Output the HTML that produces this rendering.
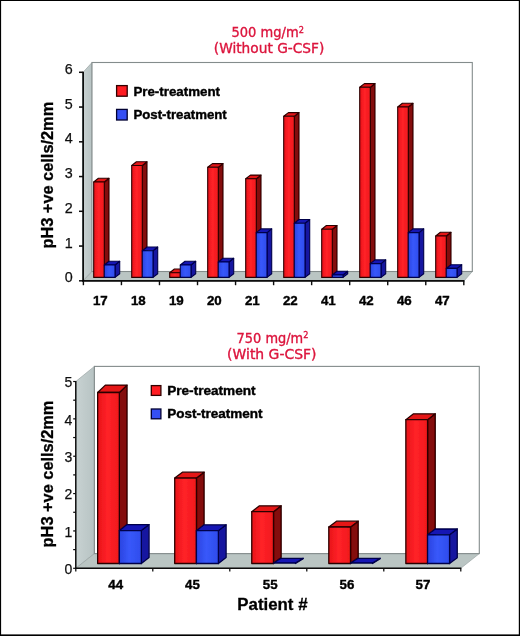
<!DOCTYPE html>
<html><head><meta charset="utf-8"><title>pH3 +ve cells per patient</title>
<style>
html,body{margin:0;padding:0;background:#fff;}
body{width:520px;height:636px;overflow:hidden;}
svg{display:block;}
.n{font-family:"Liberation Sans",Arial,sans-serif;font-size:14.3px;fill:#111;stroke:#111;stroke-width:0.25px;}
.b{font-family:"Liberation Sans",Arial,sans-serif;font-weight:bold;font-size:13.3px;fill:#000;stroke:#000;stroke-width:0.4px;}
.t{font-family:"DejaVu Sans","Liberation Sans",sans-serif;font-size:13.5px;fill:#dc143c;stroke:#dc143c;stroke-width:0.35px;}
.yl{font-family:"Liberation Sans",Arial,sans-serif;font-weight:bold;font-size:16px;fill:#000;stroke:#000;stroke-width:0.3px;}
</style></head><body>
<svg width="520" height="636" viewBox="0 0 520 636">
<defs>
<linearGradient id="gr" x1="0" x2="1" y1="0" y2="0"><stop offset="0" stop-color="#e81418"/><stop offset="0.45" stop-color="#ff2228"/><stop offset="1" stop-color="#f0181c"/></linearGradient>
<linearGradient id="gb" x1="0" x2="1" y1="0" y2="0"><stop offset="0" stop-color="#2a44e0"/><stop offset="0.45" stop-color="#3858fa"/><stop offset="1" stop-color="#2e4cec"/></linearGradient>
<linearGradient id="gw" x1="0" x2="1" y1="0" y2="0"><stop offset="0" stop-color="#c8d2d2"/><stop offset="1" stop-color="#b7c3c3"/></linearGradient>
<filter id="soft" x="0" y="0" width="520" height="636" filterUnits="userSpaceOnUse"><feGaussianBlur stdDeviation="0.45"/></filter>
</defs>
<rect x="0" y="0" width="520" height="636" fill="#fff"/>

<g id="chart1" filter="url(#soft)">
<polygon points="83.1,72.3 92,62.5 92,271.5 83.1,280.8" fill="url(#gw)" stroke="#98a2a2" stroke-width="0.7"/>
<polygon points="83.1,280.8 92,271.5 472.3,271.5 464.2,280.8" fill="#bac5c3" stroke="#98a2a2" stroke-width="0.7"/>
<rect x="92" y="62.5" width="380.3" height="209" fill="#fff" stroke="#848c8c" stroke-width="1.1"/>
<polygon points="104.3,182 109,178.3 109,273.7 104.3,277.4" fill="#840808" stroke="#2c0000" stroke-width="1.1" stroke-linejoin="round"/>
<polygon points="93.7,182 98.4,178.3 109,178.3 104.3,182" fill="#e41619" stroke="#2c0000" stroke-width="1.1" stroke-linejoin="round"/>
<rect x="93.7" y="182" width="10.6" height="95.4" fill="url(#gr)" stroke="#2c0000" stroke-width="1.1" stroke-linejoin="round"/>
<polygon points="115,265 119.7,261.3 119.7,273.7 115,277.4" fill="#1616a0" stroke="#00004a" stroke-width="1.1" stroke-linejoin="round"/>
<polygon points="104.3,265 109,261.3 119.7,261.3 115,265" fill="#1414b4" stroke="#00004a" stroke-width="1.1" stroke-linejoin="round"/>
<rect x="104.3" y="265" width="10.7" height="12.4" fill="url(#gb)" stroke="#00004a" stroke-width="1.1" stroke-linejoin="round"/>
<polygon points="142.3,165.5 147,161.8 147,273.7 142.3,277.4" fill="#840808" stroke="#2c0000" stroke-width="1.1" stroke-linejoin="round"/>
<polygon points="131.7,165.5 136.4,161.8 147,161.8 142.3,165.5" fill="#e41619" stroke="#2c0000" stroke-width="1.1" stroke-linejoin="round"/>
<rect x="131.7" y="165.5" width="10.6" height="111.9" fill="url(#gr)" stroke="#2c0000" stroke-width="1.1" stroke-linejoin="round"/>
<polygon points="153,250.7 157.7,247 157.7,273.7 153,277.4" fill="#1616a0" stroke="#00004a" stroke-width="1.1" stroke-linejoin="round"/>
<polygon points="142.3,250.7 147,247 157.7,247 153,250.7" fill="#1414b4" stroke="#00004a" stroke-width="1.1" stroke-linejoin="round"/>
<rect x="142.3" y="250.7" width="10.7" height="26.7" fill="url(#gb)" stroke="#00004a" stroke-width="1.1" stroke-linejoin="round"/>
<polygon points="180.3,272.7 185,269 185,273.7 180.3,277.4" fill="#840808" stroke="#2c0000" stroke-width="1.1" stroke-linejoin="round"/>
<polygon points="169.7,272.7 174.4,269 185,269 180.3,272.7" fill="#e41619" stroke="#2c0000" stroke-width="1.1" stroke-linejoin="round"/>
<rect x="169.7" y="272.7" width="10.6" height="4.7" fill="url(#gr)" stroke="#2c0000" stroke-width="1.1" stroke-linejoin="round"/>
<polygon points="191,265 195.7,261.3 195.7,273.7 191,277.4" fill="#1616a0" stroke="#00004a" stroke-width="1.1" stroke-linejoin="round"/>
<polygon points="180.3,265 185,261.3 195.7,261.3 191,265" fill="#1414b4" stroke="#00004a" stroke-width="1.1" stroke-linejoin="round"/>
<rect x="180.3" y="265" width="10.7" height="12.4" fill="url(#gb)" stroke="#00004a" stroke-width="1.1" stroke-linejoin="round"/>
<polygon points="218.3,167.3 223,163.6 223,273.7 218.3,277.4" fill="#840808" stroke="#2c0000" stroke-width="1.1" stroke-linejoin="round"/>
<polygon points="207.7,167.3 212.4,163.6 223,163.6 218.3,167.3" fill="#e41619" stroke="#2c0000" stroke-width="1.1" stroke-linejoin="round"/>
<rect x="207.7" y="167.3" width="10.6" height="110.1" fill="url(#gr)" stroke="#2c0000" stroke-width="1.1" stroke-linejoin="round"/>
<polygon points="229,262 233.7,258.3 233.7,273.7 229,277.4" fill="#1616a0" stroke="#00004a" stroke-width="1.1" stroke-linejoin="round"/>
<polygon points="218.3,262 223,258.3 233.7,258.3 229,262" fill="#1414b4" stroke="#00004a" stroke-width="1.1" stroke-linejoin="round"/>
<rect x="218.3" y="262" width="10.7" height="15.4" fill="url(#gb)" stroke="#00004a" stroke-width="1.1" stroke-linejoin="round"/>
<polygon points="256.3,178.8 261,175.1 261,273.7 256.3,277.4" fill="#840808" stroke="#2c0000" stroke-width="1.1" stroke-linejoin="round"/>
<polygon points="245.7,178.8 250.4,175.1 261,175.1 256.3,178.8" fill="#e41619" stroke="#2c0000" stroke-width="1.1" stroke-linejoin="round"/>
<rect x="245.7" y="178.8" width="10.6" height="98.6" fill="url(#gr)" stroke="#2c0000" stroke-width="1.1" stroke-linejoin="round"/>
<polygon points="267,232.6 271.7,228.9 271.7,273.7 267,277.4" fill="#1616a0" stroke="#00004a" stroke-width="1.1" stroke-linejoin="round"/>
<polygon points="256.3,232.6 261,228.9 271.7,228.9 267,232.6" fill="#1414b4" stroke="#00004a" stroke-width="1.1" stroke-linejoin="round"/>
<rect x="256.3" y="232.6" width="10.7" height="44.8" fill="url(#gb)" stroke="#00004a" stroke-width="1.1" stroke-linejoin="round"/>
<polygon points="294.3,116.3 299,112.6 299,273.7 294.3,277.4" fill="#840808" stroke="#2c0000" stroke-width="1.1" stroke-linejoin="round"/>
<polygon points="283.7,116.3 288.4,112.6 299,112.6 294.3,116.3" fill="#e41619" stroke="#2c0000" stroke-width="1.1" stroke-linejoin="round"/>
<rect x="283.7" y="116.3" width="10.6" height="161.1" fill="url(#gr)" stroke="#2c0000" stroke-width="1.1" stroke-linejoin="round"/>
<polygon points="305,223.2 309.7,219.5 309.7,273.7 305,277.4" fill="#1616a0" stroke="#00004a" stroke-width="1.1" stroke-linejoin="round"/>
<polygon points="294.3,223.2 299,219.5 309.7,219.5 305,223.2" fill="#1414b4" stroke="#00004a" stroke-width="1.1" stroke-linejoin="round"/>
<rect x="294.3" y="223.2" width="10.7" height="54.2" fill="url(#gb)" stroke="#00004a" stroke-width="1.1" stroke-linejoin="round"/>
<polygon points="332.3,229.2 337,225.5 337,273.7 332.3,277.4" fill="#840808" stroke="#2c0000" stroke-width="1.1" stroke-linejoin="round"/>
<polygon points="321.7,229.2 326.4,225.5 337,225.5 332.3,229.2" fill="#e41619" stroke="#2c0000" stroke-width="1.1" stroke-linejoin="round"/>
<rect x="321.7" y="229.2" width="10.6" height="48.2" fill="url(#gr)" stroke="#2c0000" stroke-width="1.1" stroke-linejoin="round"/>
<polygon points="343,275 347.7,271.3 347.7,273.7 343,277.4" fill="#1616a0" stroke="#00004a" stroke-width="1.1" stroke-linejoin="round"/>
<polygon points="332.3,275 337,271.3 347.7,271.3 343,275" fill="#1414b4" stroke="#00004a" stroke-width="1.1" stroke-linejoin="round"/>
<rect x="332.3" y="275" width="10.7" height="2.4" fill="url(#gb)" stroke="#00004a" stroke-width="1.1" stroke-linejoin="round"/>
<polygon points="370.3,87.3 375,83.6 375,273.7 370.3,277.4" fill="#840808" stroke="#2c0000" stroke-width="1.1" stroke-linejoin="round"/>
<polygon points="359.7,87.3 364.4,83.6 375,83.6 370.3,87.3" fill="#e41619" stroke="#2c0000" stroke-width="1.1" stroke-linejoin="round"/>
<rect x="359.7" y="87.3" width="10.6" height="190.1" fill="url(#gr)" stroke="#2c0000" stroke-width="1.1" stroke-linejoin="round"/>
<polygon points="381,263.6 385.7,259.9 385.7,273.7 381,277.4" fill="#1616a0" stroke="#00004a" stroke-width="1.1" stroke-linejoin="round"/>
<polygon points="370.3,263.6 375,259.9 385.7,259.9 381,263.6" fill="#1414b4" stroke="#00004a" stroke-width="1.1" stroke-linejoin="round"/>
<rect x="370.3" y="263.6" width="10.7" height="13.8" fill="url(#gb)" stroke="#00004a" stroke-width="1.1" stroke-linejoin="round"/>
<polygon points="408.3,107 413,103.3 413,273.7 408.3,277.4" fill="#840808" stroke="#2c0000" stroke-width="1.1" stroke-linejoin="round"/>
<polygon points="397.7,107 402.4,103.3 413,103.3 408.3,107" fill="#e41619" stroke="#2c0000" stroke-width="1.1" stroke-linejoin="round"/>
<rect x="397.7" y="107" width="10.6" height="170.4" fill="url(#gr)" stroke="#2c0000" stroke-width="1.1" stroke-linejoin="round"/>
<polygon points="419,232.6 423.7,228.9 423.7,273.7 419,277.4" fill="#1616a0" stroke="#00004a" stroke-width="1.1" stroke-linejoin="round"/>
<polygon points="408.3,232.6 413,228.9 423.7,228.9 419,232.6" fill="#1414b4" stroke="#00004a" stroke-width="1.1" stroke-linejoin="round"/>
<rect x="408.3" y="232.6" width="10.7" height="44.8" fill="url(#gb)" stroke="#00004a" stroke-width="1.1" stroke-linejoin="round"/>
<polygon points="446.3,236 451,232.3 451,273.7 446.3,277.4" fill="#840808" stroke="#2c0000" stroke-width="1.1" stroke-linejoin="round"/>
<polygon points="435.7,236 440.4,232.3 451,232.3 446.3,236" fill="#e41619" stroke="#2c0000" stroke-width="1.1" stroke-linejoin="round"/>
<rect x="435.7" y="236" width="10.6" height="41.4" fill="url(#gr)" stroke="#2c0000" stroke-width="1.1" stroke-linejoin="round"/>
<polygon points="457,268.4 461.7,264.7 461.7,273.7 457,277.4" fill="#1616a0" stroke="#00004a" stroke-width="1.1" stroke-linejoin="round"/>
<polygon points="446.3,268.4 451,264.7 461.7,264.7 457,268.4" fill="#1414b4" stroke="#00004a" stroke-width="1.1" stroke-linejoin="round"/>
<rect x="446.3" y="268.4" width="10.7" height="9" fill="url(#gb)" stroke="#00004a" stroke-width="1.1" stroke-linejoin="round"/>
<line x1="83.1" y1="71.7" x2="83.1" y2="281.5" stroke="#080808" stroke-width="1.7"/>
<line x1="82.4" y1="280.8" x2="464.4" y2="280.8" stroke="#080808" stroke-width="1.7"/>
<line x1="79" y1="280.8" x2="83.1" y2="280.8" stroke="#080808" stroke-width="1.5"/>
<text class="n" x="72.6" y="282.4" text-anchor="end">0</text>
<line x1="79" y1="246.05" x2="83.1" y2="246.05" stroke="#080808" stroke-width="1.5"/>
<text class="n" x="72.6" y="247.65" text-anchor="end">1</text>
<line x1="79" y1="211.3" x2="83.1" y2="211.3" stroke="#080808" stroke-width="1.5"/>
<text class="n" x="72.6" y="212.9" text-anchor="end">2</text>
<line x1="79" y1="176.55" x2="83.1" y2="176.55" stroke="#080808" stroke-width="1.5"/>
<text class="n" x="72.6" y="178.15" text-anchor="end">3</text>
<line x1="79" y1="141.8" x2="83.1" y2="141.8" stroke="#080808" stroke-width="1.5"/>
<text class="n" x="72.6" y="143.4" text-anchor="end">4</text>
<line x1="79" y1="107.05" x2="83.1" y2="107.05" stroke="#080808" stroke-width="1.5"/>
<text class="n" x="72.6" y="108.65" text-anchor="end">5</text>
<line x1="79" y1="72.3" x2="83.1" y2="72.3" stroke="#080808" stroke-width="1.5"/>
<text class="n" x="72.6" y="73.9" text-anchor="end">6</text>
<line x1="83.4" y1="280.8" x2="83.4" y2="285.2" stroke="#080808" stroke-width="1.4"/>
<line x1="121.44" y1="280.8" x2="121.44" y2="285.2" stroke="#080808" stroke-width="1.4"/>
<line x1="159.48" y1="280.8" x2="159.48" y2="285.2" stroke="#080808" stroke-width="1.4"/>
<line x1="197.52" y1="280.8" x2="197.52" y2="285.2" stroke="#080808" stroke-width="1.4"/>
<line x1="235.56" y1="280.8" x2="235.56" y2="285.2" stroke="#080808" stroke-width="1.4"/>
<line x1="273.6" y1="280.8" x2="273.6" y2="285.2" stroke="#080808" stroke-width="1.4"/>
<line x1="311.64" y1="280.8" x2="311.64" y2="285.2" stroke="#080808" stroke-width="1.4"/>
<line x1="349.68" y1="280.8" x2="349.68" y2="285.2" stroke="#080808" stroke-width="1.4"/>
<line x1="387.72" y1="280.8" x2="387.72" y2="285.2" stroke="#080808" stroke-width="1.4"/>
<line x1="425.76" y1="280.8" x2="425.76" y2="285.2" stroke="#080808" stroke-width="1.4"/>
<line x1="463.8" y1="280.8" x2="463.8" y2="285.2" stroke="#080808" stroke-width="1.4"/>
<text class="b" x="100.3" y="304.6" text-anchor="middle">17</text>
<text class="b" x="138.3" y="304.6" text-anchor="middle">18</text>
<text class="b" x="176.3" y="304.6" text-anchor="middle">19</text>
<text class="b" x="214.3" y="304.6" text-anchor="middle">20</text>
<text class="b" x="252.3" y="304.6" text-anchor="middle">21</text>
<text class="b" x="290.3" y="304.6" text-anchor="middle">22</text>
<text class="b" x="328.3" y="304.6" text-anchor="middle">41</text>
<text class="b" x="366.3" y="304.6" text-anchor="middle">42</text>
<text class="b" x="404.3" y="304.6" text-anchor="middle">46</text>
<text class="b" x="442.3" y="304.6" text-anchor="middle">47</text>
<rect x="116.6" y="85.6" width="10.6" height="10.6" fill="#ff1c22" stroke="#300000" stroke-width="1.3"/>
<rect x="116.6" y="109.4" width="10.6" height="10.6" fill="#3450f4" stroke="#000030" stroke-width="1.3"/>
<text class="b" x="133.4" y="95.6" textLength="86.6" lengthAdjust="spacingAndGlyphs">Pre-treatment</text>
<text class="b" x="133.4" y="118.9" textLength="93.4" lengthAdjust="spacingAndGlyphs">Post-treatment</text>
<text class="t" x="231.5" y="37" textLength="72.4" lengthAdjust="spacingAndGlyphs">500 mg/m<tspan font-size="8.5" dy="-4.5">2</tspan></text>
<text class="t" x="213.8" y="53" textLength="110.5" lengthAdjust="spacingAndGlyphs">(Without G-CSF)</text>
<text class="yl" transform="translate(53.4,248.6) rotate(-90)" textLength="146.8" lengthAdjust="spacingAndGlyphs">pH3 +ve cells/2mm</text>
</g>
<g id="chart2" filter="url(#soft)">
<polygon points="75.8,381.5 94.4,366.4 94.4,553.6 75.8,568.3" fill="url(#gw)" stroke="#98a2a2" stroke-width="0.7"/>
<polygon points="75.8,568.3 94.4,553.6 479.3,553.6 460.8,568.3" fill="#bac5c3" stroke="#98a2a2" stroke-width="0.7"/>
<rect x="94.4" y="366.4" width="384.9" height="187.2" fill="#fff" stroke="#848c8c" stroke-width="1.1"/>
<polygon points="119.35,392.5 127.05,385.1 127.05,556.1 119.35,563.5" fill="#840808" stroke="#2c0000" stroke-width="1.3" stroke-linejoin="round"/>
<polygon points="97.65,392.5 105.35,385.1 127.05,385.1 119.35,392.5" fill="#e41619" stroke="#2c0000" stroke-width="1.3" stroke-linejoin="round"/>
<rect x="97.65" y="392.5" width="21.7" height="171" fill="url(#gr)" stroke="#2c0000" stroke-width="1.3" stroke-linejoin="round"/>
<polygon points="141.35,530.6 149.05,524.6 149.05,557.5 141.35,563.5" fill="#1616a0" stroke="#00004a" stroke-width="1.3" stroke-linejoin="round"/>
<polygon points="119.35,530.6 127.05,524.6 149.05,524.6 141.35,530.6" fill="#1414b4" stroke="#00004a" stroke-width="1.3" stroke-linejoin="round"/>
<rect x="119.35" y="530.6" width="22" height="32.9" fill="url(#gb)" stroke="#00004a" stroke-width="1.3" stroke-linejoin="round"/>
<polygon points="196.4,478.1 204.1,472.2 204.1,557.6 196.4,563.5" fill="#840808" stroke="#2c0000" stroke-width="1.3" stroke-linejoin="round"/>
<polygon points="174.7,478.1 182.4,472.2 204.1,472.2 196.4,478.1" fill="#e41619" stroke="#2c0000" stroke-width="1.3" stroke-linejoin="round"/>
<rect x="174.7" y="478.1" width="21.7" height="85.4" fill="url(#gr)" stroke="#2c0000" stroke-width="1.3" stroke-linejoin="round"/>
<polygon points="218.4,530.7 226.1,524.8 226.1,557.6 218.4,563.5" fill="#1616a0" stroke="#00004a" stroke-width="1.3" stroke-linejoin="round"/>
<polygon points="196.4,530.7 204.1,524.8 226.1,524.8 218.4,530.7" fill="#1414b4" stroke="#00004a" stroke-width="1.3" stroke-linejoin="round"/>
<rect x="196.4" y="530.7" width="22" height="32.8" fill="url(#gb)" stroke="#00004a" stroke-width="1.3" stroke-linejoin="round"/>
<polygon points="273.45,511.7 281.15,505.8 281.15,557.6 273.45,563.5" fill="#840808" stroke="#2c0000" stroke-width="1.3" stroke-linejoin="round"/>
<polygon points="251.75,511.7 259.45,505.8 281.15,505.8 273.45,511.7" fill="#e41619" stroke="#2c0000" stroke-width="1.3" stroke-linejoin="round"/>
<rect x="251.75" y="511.7" width="21.7" height="51.8" fill="url(#gr)" stroke="#2c0000" stroke-width="1.3" stroke-linejoin="round"/>
<polygon points="295.45,563 303.15,558.3 303.15,558.8 295.45,563.5" fill="#1616a0" stroke="#00004a" stroke-width="1.3" stroke-linejoin="round"/>
<polygon points="273.45,563 281.15,558.3 303.15,558.3 295.45,563" fill="#1414b4" stroke="#00004a" stroke-width="1.3" stroke-linejoin="round"/>
<polygon points="350.5,527 358.2,521.2 358.2,557.7 350.5,563.5" fill="#840808" stroke="#2c0000" stroke-width="1.3" stroke-linejoin="round"/>
<polygon points="328.8,527 336.5,521.2 358.2,521.2 350.5,527" fill="#e41619" stroke="#2c0000" stroke-width="1.3" stroke-linejoin="round"/>
<rect x="328.8" y="527" width="21.7" height="36.5" fill="url(#gr)" stroke="#2c0000" stroke-width="1.3" stroke-linejoin="round"/>
<polygon points="372.5,563 380.2,558.3 380.2,558.8 372.5,563.5" fill="#1616a0" stroke="#00004a" stroke-width="1.3" stroke-linejoin="round"/>
<polygon points="350.5,563 358.2,558.3 380.2,558.3 372.5,563" fill="#1414b4" stroke="#00004a" stroke-width="1.3" stroke-linejoin="round"/>
<polygon points="427.55,419.7 435.25,413.8 435.25,557.6 427.55,563.5" fill="#840808" stroke="#2c0000" stroke-width="1.3" stroke-linejoin="round"/>
<polygon points="405.85,419.7 413.55,413.8 435.25,413.8 427.55,419.7" fill="#e41619" stroke="#2c0000" stroke-width="1.3" stroke-linejoin="round"/>
<rect x="405.85" y="419.7" width="21.7" height="143.8" fill="url(#gr)" stroke="#2c0000" stroke-width="1.3" stroke-linejoin="round"/>
<polygon points="449.55,534.8 457.25,529 457.25,557.7 449.55,563.5" fill="#1616a0" stroke="#00004a" stroke-width="1.3" stroke-linejoin="round"/>
<polygon points="427.55,534.8 435.25,529 457.25,529 449.55,534.8" fill="#1414b4" stroke="#00004a" stroke-width="1.3" stroke-linejoin="round"/>
<rect x="427.55" y="534.8" width="22" height="28.7" fill="url(#gb)" stroke="#00004a" stroke-width="1.3" stroke-linejoin="round"/>
<line x1="75.8" y1="381" x2="75.8" y2="568.8" stroke="#080808" stroke-width="1.4"/>
<line x1="75.3" y1="568.3" x2="461.3" y2="568.3" stroke="#080808" stroke-width="1.4"/>
<line x1="73.2" y1="568.3" x2="75.8" y2="568.3" stroke="#080808" stroke-width="1.2"/>
<text class="n" style="font-size:14px" x="72.3" y="574.2" text-anchor="end">0</text>
<line x1="73.2" y1="549.62" x2="75.8" y2="549.62" stroke="#080808" stroke-width="1.2"/>
<line x1="73.2" y1="530.94" x2="75.8" y2="530.94" stroke="#080808" stroke-width="1.2"/>
<text class="n" style="font-size:14px" x="72.3" y="536.84" text-anchor="end">1</text>
<line x1="73.2" y1="512.26" x2="75.8" y2="512.26" stroke="#080808" stroke-width="1.2"/>
<line x1="73.2" y1="493.58" x2="75.8" y2="493.58" stroke="#080808" stroke-width="1.2"/>
<text class="n" style="font-size:14px" x="72.3" y="499.48" text-anchor="end">2</text>
<line x1="73.2" y1="474.9" x2="75.8" y2="474.9" stroke="#080808" stroke-width="1.2"/>
<line x1="73.2" y1="456.22" x2="75.8" y2="456.22" stroke="#080808" stroke-width="1.2"/>
<text class="n" style="font-size:14px" x="72.3" y="462.12" text-anchor="end">3</text>
<line x1="73.2" y1="437.54" x2="75.8" y2="437.54" stroke="#080808" stroke-width="1.2"/>
<line x1="73.2" y1="418.86" x2="75.8" y2="418.86" stroke="#080808" stroke-width="1.2"/>
<text class="n" style="font-size:14px" x="72.3" y="424.76" text-anchor="end">4</text>
<line x1="73.2" y1="400.18" x2="75.8" y2="400.18" stroke="#080808" stroke-width="1.2"/>
<line x1="73.2" y1="381.5" x2="75.8" y2="381.5" stroke="#080808" stroke-width="1.2"/>
<text class="n" style="font-size:14px" x="72.3" y="387.4" text-anchor="end">5</text>
<line x1="75.8" y1="568.3" x2="75.8" y2="571.4" stroke="#080808" stroke-width="1.2"/>
<line x1="152.8" y1="568.3" x2="152.8" y2="571.4" stroke="#080808" stroke-width="1.2"/>
<line x1="229.8" y1="568.3" x2="229.8" y2="571.4" stroke="#080808" stroke-width="1.2"/>
<line x1="306.8" y1="568.3" x2="306.8" y2="571.4" stroke="#080808" stroke-width="1.2"/>
<line x1="383.8" y1="568.3" x2="383.8" y2="571.4" stroke="#080808" stroke-width="1.2"/>
<line x1="460.8" y1="568.3" x2="460.8" y2="571.4" stroke="#080808" stroke-width="1.2"/>
<text class="b" x="115.7" y="588.9" text-anchor="middle">44</text>
<text class="b" x="192.4" y="588.9" text-anchor="middle">45</text>
<text class="b" x="270.2" y="588.9" text-anchor="middle">55</text>
<text class="b" x="347" y="588.9" text-anchor="middle">56</text>
<text class="b" x="423" y="588.9" text-anchor="middle">57</text>
<rect x="151.3" y="385.6" width="9.6" height="9.8" fill="#ff1c22" stroke="#300000" stroke-width="1.3"/>
<rect x="151.3" y="409" width="9.6" height="9.8" fill="#3450f4" stroke="#000030" stroke-width="1.3"/>
<text class="b" x="167.2" y="395" textLength="88.4" lengthAdjust="spacingAndGlyphs">Pre-treatment</text>
<text class="b" x="167.2" y="418.2" textLength="95.4" lengthAdjust="spacingAndGlyphs">Post-treatment</text>
<text class="t" x="236.6" y="342.8" textLength="71.8" lengthAdjust="spacingAndGlyphs">750 mg/m<tspan font-size="8.5" dy="-4.5">2</tspan></text>
<text class="t" x="227.1" y="359.4" textLength="89.4" lengthAdjust="spacingAndGlyphs">(With G-CSF)</text>
<text class="yl" transform="translate(52.6,547.4) rotate(-90)" textLength="146.8" lengthAdjust="spacingAndGlyphs">pH3 +ve cells/2mm</text>
<text class="yl" x="237.3" y="609.8" textLength="70.2" lengthAdjust="spacingAndGlyphs">Patient #</text>
</g>
<rect x="0" y="0" width="520" height="1" fill="#000"/>
<rect x="0" y="0" width="1.1" height="636" fill="#000"/>
<rect x="518.8" y="0" width="1.2" height="636" fill="#000"/>
<rect x="0" y="634.4" width="520" height="1.6" fill="#000"/>
</svg></body></html>
